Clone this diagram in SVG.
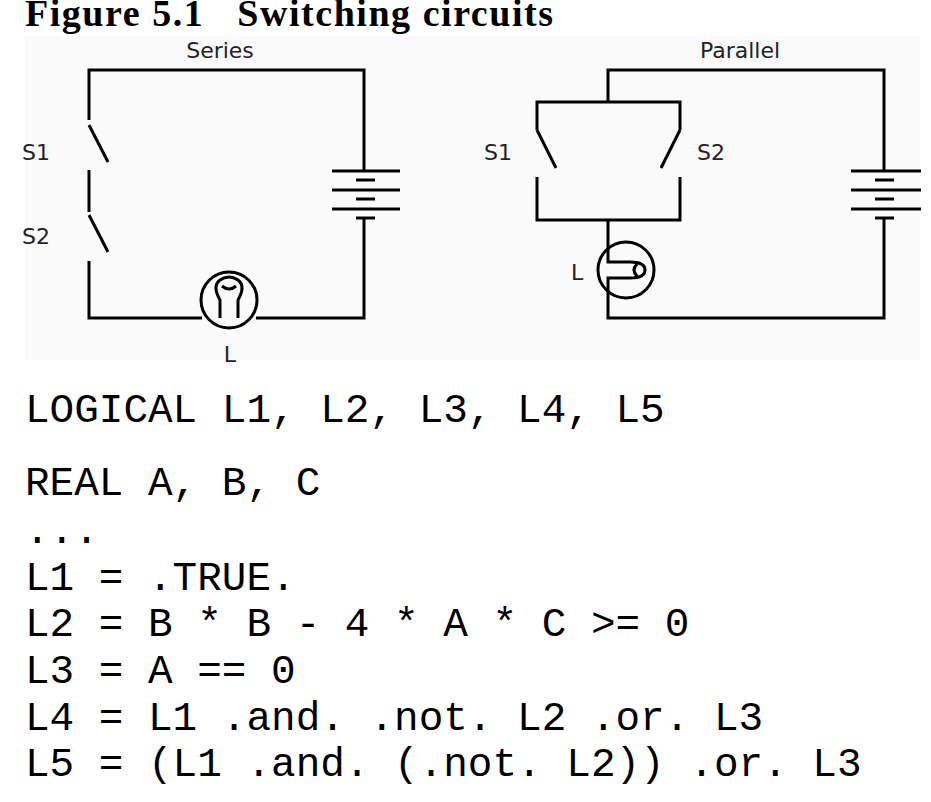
<svg xmlns="http://www.w3.org/2000/svg" width="931" height="802" viewBox="0 0 931 802">
<style>
.w{stroke:#000;stroke-width:3;fill:none}
.lbl{font-family:"DejaVu Sans","Liberation Sans",sans-serif;font-size:22px;fill:#222}
.code{font-family:"Liberation Mono",monospace;font-size:41px;fill:#000}
</style>
<rect width="931" height="802" fill="#fff"/>
<rect x="25" y="36" width="895" height="324" fill="#fafafa"/>
<text x="25" y="26" xml:space="preserve" font-family="Liberation Serif,serif" font-weight="bold" font-size="38" textLength="528">Figure 5.1   Switching circuits</text>
<g id="series">
<text class="lbl" x="220" y="58" text-anchor="middle">Series</text>
<text class="lbl" x="22" y="160">S1</text>
<text class="lbl" x="22" y="244">S2</text>
<text class="lbl" x="230" y="362" text-anchor="middle">L</text>
</g>
<g id="parallel">
<text class="lbl" x="740" y="58" text-anchor="middle">Parallel</text>
<text class="lbl" x="484" y="160">S1</text>
<text class="lbl" x="697" y="160">S2</text>
<text class="lbl" x="571" y="280">L</text>
</g>
<g id="connectors">
<path class="w" d="M89 120V70H364V171M89 125L108 162M89 170V212M89 215L108 252M89 261V318H202M256 318H364V218"/>
<path class="w" d="M332 171H400M356 180H375M332 190H400M356 199H375M332 209H400M356 218H375"/>
<circle class="w" cx="229" cy="300" r="28"/>
<path class="w" d="M220 318V300Q212 286 220 280Q229 274 238 280Q246 286 238 300V318M222 286Q229 292 236 286"/>
<path class="w" d="M608 102V70H884V171M537 130V102H680V130M537 130L556 168M680 130L661 168M537 177V220H680V177M608 220V245M608 293V318H884V218"/>
<path class="w" d="M851 171H921M875 180H894M851 190H921M875 199H894M851 209H921M875 218H894"/>
<circle class="w" cx="626" cy="270" r="28"/>
<path class="w" d="M608 245V262H630Q645 262 645 270Q645 278 630 278H608V293M637 264Q631 270 637 276"/>
</g>
<g id="code">
<text class="code" x="25" y="422">LOGICAL L1, L2, L3, L4, L5</text>
<text class="code" x="25" y="495">REAL A, B, C</text>
<text class="code" x="25" y="543">...</text>
<text class="code" x="25" y="590">L1 = .TRUE.</text>
<text class="code" x="25" y="636">L2 = B * B - 4 * A * C &gt;= 0</text>
<text class="code" x="25" y="683">L3 = A == 0</text>
<text class="code" x="25" y="730">L4 = L1 .and. .not. L2 .or. L3</text>
<text class="code" x="25" y="776">L5 = (L1 .and. (.not. L2)) .or. L3</text>
</g>
</svg>
